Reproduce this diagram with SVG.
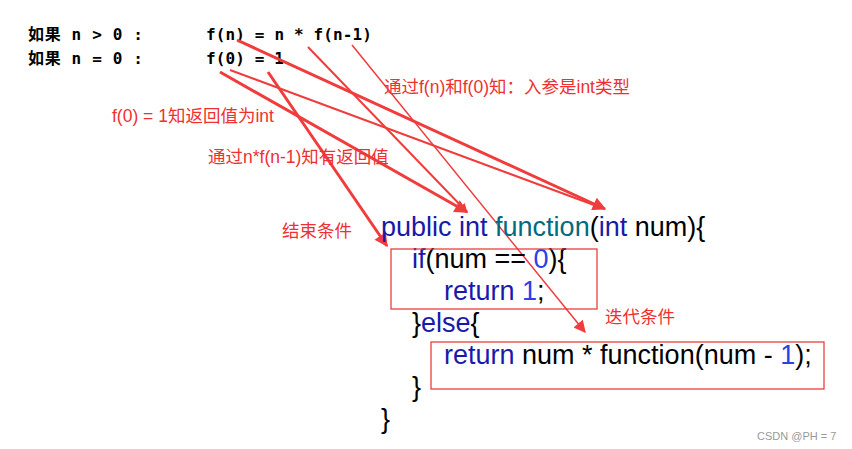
<svg xmlns="http://www.w3.org/2000/svg" width="852" height="449" viewBox="0 0 852 449">
<style>
.hd{font-family:"DejaVu Sans Mono","Noto Sans CJK SC",monospace;font-size:16px;font-weight:bold;fill:#000;white-space:pre}
.lb{font-family:"Liberation Sans","Noto Sans CJK SC",sans-serif;font-size:17.5px;fill:#f03030}
.cd{font-family:"Liberation Sans",Arial,sans-serif;font-size:27px;fill:#000;white-space:pre}
.kw{fill:#1a1aa8}.fn{fill:#006a80}.nm{fill:#2a40e8}
.ln{stroke:#f03c3c;fill:none}
.bx{fill:none;stroke:#e83030;stroke-width:1.2}
</style>
<defs><marker id="ah" viewBox="0 0 10 10" refX="9" refY="5" markerWidth="6" markerHeight="4.5" orient="auto" markerUnits="strokeWidth"><path d="M0,0L10,5L0,10z" fill="#f03c3c"/></marker>
<marker id="ah2" viewBox="0 0 10 10" refX="9" refY="5" markerWidth="11" markerHeight="8" orient="auto" markerUnits="strokeWidth"><path d="M0,0L10,5L0,10z" fill="#f03c3c"/></marker></defs>
<rect width="852" height="449" fill="#fff"/>
<g id="header">
<text class="hd" x="28" y="40" textLength="115" lengthAdjust="spacing" xml:space="preserve">如果 n &gt; 0 :</text>
<text class="hd" x="206" y="40" textLength="166" lengthAdjust="spacing" xml:space="preserve">f(n) = n * f(n-1)</text>
<text class="hd" x="28" y="64" textLength="115" lengthAdjust="spacing" xml:space="preserve">如果 n = 0 :</text>
<text class="hd" x="206" y="64" textLength="78" lengthAdjust="spacing" xml:space="preserve">f(0) = 1</text>
</g>
<g id="connectors">
<line class="ln" stroke-width="3" x1="237" y1="40" x2="605" y2="209" marker-end="url(#ah)"/>
<line class="ln" stroke-width="2" x1="230" y1="70" x2="602" y2="208" marker-end="url(#ah)"/>
<line class="ln" stroke-width="3" x1="220" y1="72" x2="467" y2="212" marker-end="url(#ah)"/>
<line class="ln" stroke-width="2" x1="308" y1="47" x2="467" y2="212" marker-end="url(#ah)"/>
<line class="ln" stroke-width="3" x1="268" y1="72" x2="387" y2="246" marker-end="url(#ah)"/>
<line class="ln" stroke-width="1.5" x1="352" y1="45" x2="585" y2="332" marker-end="url(#ah2)"/>
</g>
<g id="labels">
<text class="lb" x="384" y="93">通过f(n)和f(0)知：入参是int类型</text>
<text class="lb" x="112" y="122">f(0) = 1知返回值为int</text>
<text class="lb" x="208" y="163">通过n*f(n-1)知有返回值</text>
<text class="lb" x="282" y="237">结束条件</text>
<text class="lb" x="605" y="323">迭代条件</text>
</g>
<g id="code">
<text class="cd" x="381" y="236"><tspan class="kw">public int </tspan><tspan class="fn">function</tspan>(<tspan class="kw">int</tspan> num){</text>
<text class="cd" x="412" y="268"><tspan class="kw">if</tspan>(num == <tspan class="nm">0</tspan>){</text>
<text class="cd" x="444" y="300"><tspan class="kw">return </tspan><tspan class="nm">1</tspan>;</text>
<text class="cd" x="412" y="332">}<tspan class="kw">else</tspan>{</text>
<text class="cd" x="444" y="364"><tspan class="kw">return</tspan> num * function(num - <tspan class="nm">1</tspan>);</text>
<text class="cd" x="412" y="396">}</text>
<text class="cd" x="381" y="428">}</text>
</g>
<g id="boxes">
<rect class="bx" x="391" y="249" width="206" height="60"/>
<rect class="bx" x="431" y="342" width="393" height="47"/>
</g>
<text x="757" y="440" font-family="Liberation Sans,sans-serif" font-size="11" fill="#999">CSDN @PH = 7</text>
</svg>
